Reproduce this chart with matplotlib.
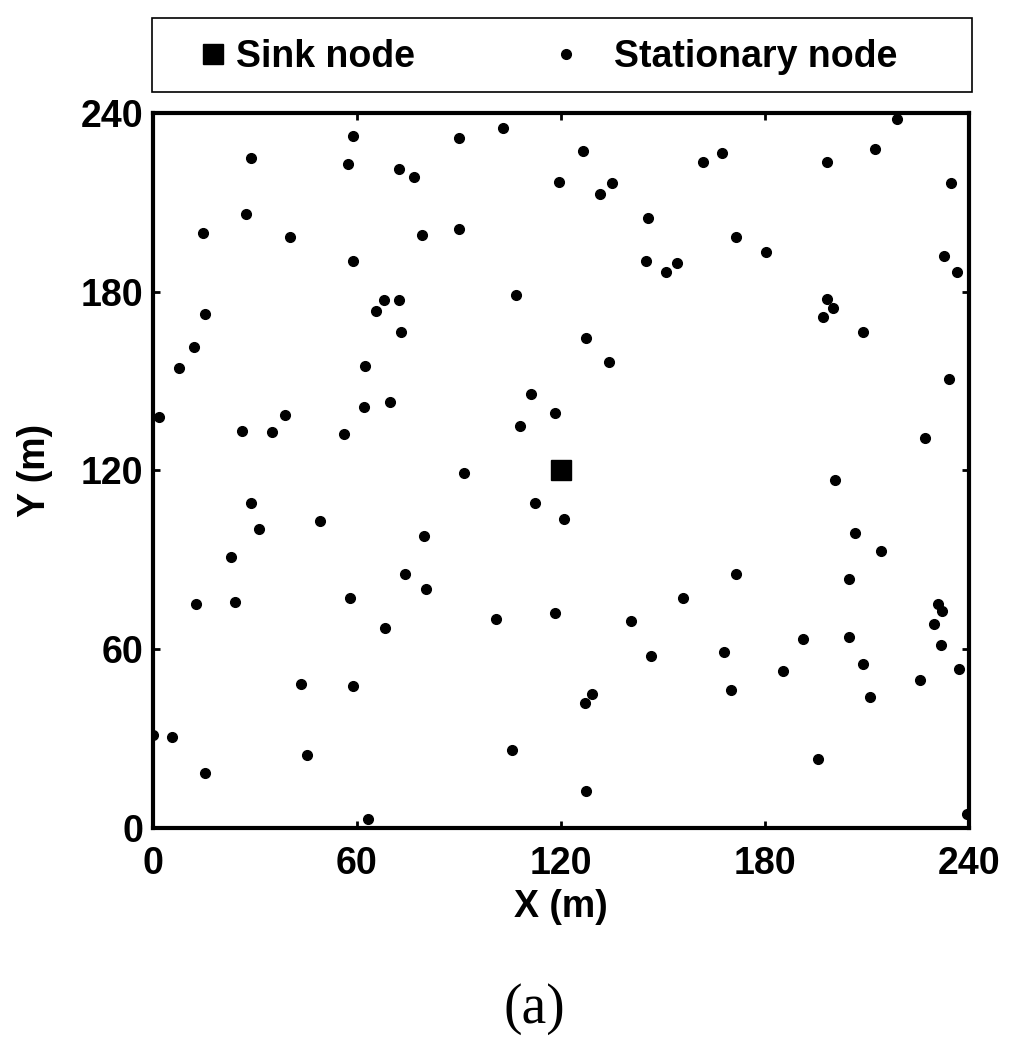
import matplotlib
matplotlib.use("Agg")
from matplotlib import pyplot as plt
from matplotlib.patches import Rectangle

# sink node position (m)
sink_x = [120]
sink_y = [120]

# stationary node positions (m)
node_x = [58.7, 28.7, 57.5, 72.3, 76.7, 27.4, 14.6, 40.3, 79.2, 58.7,
          67.8, 72.3, 65.7, 15.3, 72.9, 12.1, 7.6, 62.5, 62.0, 69.6,
          38.9, 1.9, 26.2, 35.1, 56.2,
          102.9, 90.1, 126.5, 161.7, 119.5, 134.9, 131.6, 145.7, 90.1, 145.1,
          154.0, 150.8, 106.7, 127.3, 134.2, 111.3, 118.2, 107.9,
          218.7, 167.4, 212.3, 198.1, 234.7, 171.4, 180.3, 232.7, 236.6, 198.1,
          200.1, 197.0, 208.9, 234.0, 227.1,
          28.7, 49.1, 31.3, 79.7, 22.8, 74.0, 80.3, 12.6, 24.2, 57.9,
          68.3, 43.4, 58.7, 5.6, 0.0, 45.4, 15.3, 63.1,
          91.4, 112.4, 120.8, 156.0, 101.0, 118.1, 140.6, 146.4, 129.1, 127.1,
          105.5, 127.3,
          200.7, 206.4, 214.1, 171.4, 204.6, 230.8, 232.2, 229.6, 231.8, 191.2,
          204.6, 168.0, 237.1, 185.4, 208.9, 225.7, 170.0, 211.0, 195.6, 239.3]
node_y = [232.3, 225.0, 222.9, 221.3, 218.4, 206.2, 199.7, 198.4, 199.1, 190.3,
          177.3, 177.3, 173.7, 172.4, 166.6, 161.6, 154.4, 155.1, 141.4, 142.9,
          138.5, 137.9, 133.4, 132.8, 132.2,
          235.1, 231.5, 227.2, 223.6, 217.0, 216.4, 212.7, 204.9, 201.2, 190.4,
          189.7, 186.7, 178.9, 164.5, 156.5, 145.8, 139.2, 134.9,
          238.0, 226.5, 227.8, 223.6, 216.4, 198.4, 193.2, 191.9, 186.7, 177.5,
          174.6, 171.6, 166.6, 150.8, 130.9,
          109.0, 103.2, 100.3, 98.0, 90.9, 85.2, 80.1, 75.1, 75.8, 77.3,
          67.1, 48.3, 47.7, 30.4, 31.1, 24.6, 18.4, 3.0,
          119.1, 109.0, 103.8, 77.3, 70.0, 72.3, 69.4, 57.7, 44.9, 41.9,
          26.2, 12.4,
          116.8, 98.9, 93.1, 85.2, 83.7, 75.1, 73.0, 68.6, 61.4, 63.5,
          64.2, 59.2, 53.5, 52.8, 54.9, 49.8, 46.3, 44.1, 23.2, 4.6]

ticks = [0, 60, 120, 180, 240]
fs = 27

plt.rcParams['font.family'] = ['Liberation Sans', 'DejaVu Sans']
plt.rcParams['font.weight'] = 'bold'

fig = plt.figure(figsize=(10.24, 10.48), dpi=100)
ax = fig.add_axes([0.1494, 0.2099, 0.7969, 0.6823])

node_line, = ax.plot(node_x, node_y, 'o', color='black', markersize=7)
sink_line, = ax.plot(sink_x, sink_y, 's', color='black', markersize=14)

ax.set_xlim(0, 240)
ax.set_ylim(0, 240)
ax.set_xticks(ticks)
ax.set_yticks(ticks)
ax.tick_params(direction='in', top=True, right=True, length=5, width=2,
               labelsize=fs)
ax.tick_params(axis='x', pad=13)
ax.tick_params(axis='y', pad=7)
for lab in ax.get_xticklabels() + ax.get_yticklabels():
    lab.set_fontweight('bold')
for sp in ax.spines.values():
    sp.set_linewidth(3)

ax.set_xlabel('X (m)', fontsize=fs, fontweight='bold', labelpad=5)
ax.set_ylabel('Y (m)', fontsize=fs, fontweight='bold', labelpad=20)

# legend box above the axes, one entry per legend so each can be placed
fig.patches.append(Rectangle((0.1484, 0.9122), 0.8008, 0.0706,
                             transform=fig.transFigure, fill=False,
                             edgecolor='black', linewidth=1.2))
leg_opts = dict(loc='center left', frameon=False, handlelength=1.0,
                prop={'size': fs, 'weight': 'bold'}, borderpad=0,
                borderaxespad=0)
fig.legend([sink_line], ['Sink node'], bbox_to_anchor=(194 / 1024, 0.9456),
           handletextpad=0.12, **leg_opts)
fig.legend([node_line], ['Stationary node'], bbox_to_anchor=(547 / 1024, 0.9456),
           handletextpad=0.79, **leg_opts)

fig.text(0.5215, 0.037, '(a)', ha='center', va='center', fontsize=40,
         family=['Liberation Serif', 'DejaVu Serif'], fontweight='normal')

fig.savefig('out.png', dpi=100)
